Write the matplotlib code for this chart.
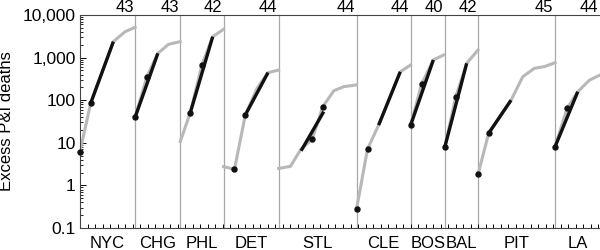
import numpy as np
import matplotlib
matplotlib.use("Agg")
import matplotlib.pyplot as plt
import matplotlib.transforms as mtransforms
from matplotlib.ticker import FixedLocator, LogLocator, NullFormatter

plt.rcParams['font.family'] = ['Liberation Sans', 'DejaVu Sans']

# cities, panel widths (days) and the week number printed on top
cities = ['NYC', 'CHG', 'PHL', 'DET', 'STL', 'CLE', 'BOS', 'BAL', 'PIT', 'LA']
widths = [36.7, 30.0, 28.8, 36.7, 51.8, 36.0, 22.8, 22.2, 51.1, 29.9]
top_nums = ['43', '43', '42', '44', '44', '44', '40', '42', '45', '44']

# cumulative excess P&I deaths (gray), days from panel start
gray_x = [
    [0, 7.1, 22.2, 30, 36.7],
    [0, 7.8, 15.1, 22.2, 30],
    [0, 6.7, 14.4, 21.6, 28.8],
    [0, 7.3, 14.5, 22.3, 29.6, 36.7],
    [0, 7.8, 14.5, 22.3, 29.3, 36.7, 43.3, 51.6],
    [0, 7.3, 14.7, 22.0, 29.1, 36.0],
    [0, 7.3, 15.1, 21.9],
    [0, 7.1, 14.5, 22.0],
    [0, 6.9, 14.5, 21.8, 29.6, 37.3, 44, 51.1],
    [0, 8.0, 15.1, 22.9, 29.9],
]
gray_y = [
    [6.2, 85, 2370, 4060, 5150],
    [40, 355, 1260, 2050, 2370],
    [10.7, 51, 670, 3100, 4600],
    [2.75, 2.4, 45, 190, 445, 510],
    [2.5, 2.8, 6.8, 12.3, 70, 167, 208, 228],
    [0.28, 7.1, 26, 110, 465, 670],
    [26, 240, 880, 1150],
    [8.1, 117, 735, 1500],
    [1.9, 16.7, 42, 100, 355, 560, 615, 760],
    [8.1, 65, 158, 296, 390],
]

# fitted growth segments (black): start/end day and value
fit_x = [[7.1, 22.2], [0, 15.1], [6.7, 21.6], [14.5, 29.6], [14.9, 30.0],
         [14.7, 29.1], [0, 15.1], [0, 14.5], [6.9, 21.8], [0, 15.1]]
fit_y = [[85, 2370], [40, 1260], [51, 3100], [45, 445], [6.5, 54],
         [26, 465], [26, 880], [8.1, 735], [16.7, 100], [8.1, 158]]

# marked points (black dots)
dot_x = [[0, 7.1], [0, 7.8], [6.7, 14.4], [7.3, 14.5], [22.3, 29.3],
         [0, 7.3], [0, 7.3], [0, 7.1], [0, 6.9], [0, 8.0]]
dot_y = [[6.2, 85], [40, 355], [51, 670], [2.4, 45], [12.3, 70],
         [0.28, 7.1], [26, 240], [8.1, 117], [1.9, 16.7], [8.1, 65]]

fig = plt.figure(figsize=(6, 2.5), dpi=100)
ax = fig.add_axes([80 / 600, 22 / 250, 520 / 600, 213 / 250])

starts = np.concatenate([[0], np.cumsum(widths)[:-1]])
total = float(np.sum(widths))

for i in range(len(cities)):
    x0 = starts[i]
    ax.plot(x0 + np.array(gray_x[i]), gray_y[i], color='#b8b8b8', lw=2.2,
            solid_joinstyle='round', zorder=2)
    ax.plot(x0 + np.array(fit_x[i]), fit_y[i], color='#111111', lw=2.4,
            solid_capstyle='butt', zorder=3)
    ax.plot(x0 + np.array(dot_x[i]), dot_y[i], 'o', color='#111111', ms=3.6,
            zorder=4, clip_on=False)
    if i > 0:
        ax.axvline(x0, color='#a8a8a8', lw=0.9, zorder=1)

trans_top = mtransforms.blended_transform_factory(ax.transData, ax.transAxes)
for i in range(len(cities)):
    x0 = starts[i]
    ax.text(x0 + widths[i] / 2, -0.094, cities[i], transform=trans_top,
            ha='center', va='baseline', fontsize=12)
    ax.text(x0 + widths[i] - 1.0, 1.012, top_nums[i], transform=trans_top,
            ha='right', va='baseline', fontsize=12)

ax.set_yscale('log')
ax.set_ylim(0.1, 10000)
ax.set_xlim(0, total)
ax.set_yticks([0.1, 1, 10, 100, 1000, 10000])
ax.set_yticklabels(['0.1', '1', '10', '100', '1,000', '10,000'], fontsize=12.5)
ax.yaxis.set_minor_locator(LogLocator(base=10, subs=np.arange(2, 10)))
ax.yaxis.set_minor_formatter(NullFormatter())
ax.xaxis.set_major_locator(FixedLocator(np.arange(0, total, 5)))
ax.set_xticklabels([])
ax.tick_params(axis='y', which='major', direction='in', length=4, width=0.7, pad=3)
ax.tick_params(axis='y', which='minor', direction='in', length=2.5, width=0.6)
ax.tick_params(axis='x', which='major', direction='in', length=3, width=0.7)

for side in ['left', 'bottom', 'top']:
    ax.spines[side].set_linewidth(0.8)
    ax.spines[side].set_color('#444444')
ax.spines['right'].set_visible(False)

ax.set_ylabel('Excess P&I deaths', fontsize=12, labelpad=6)

fig.savefig('out.png', dpi=100)
